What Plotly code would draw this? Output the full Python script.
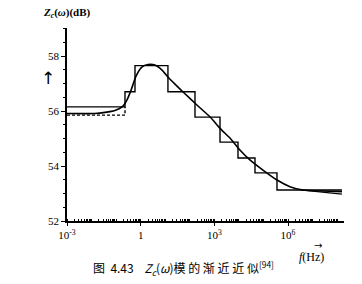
import plotly.graph_objects as go

# Smooth exact curve (frequency in Hz, magnitude in dB)
curve_f = [0.001, 0.0138, 0.0355, 0.0891, 0.174, 0.275, 0.407, 0.646, 1.12, 2.0, 3.8,
           7.4, 12.9, 25, 52, 195, 660, 1700, 4400, 11000, 28000, 95000, 355000,
           1.2e6, 4.1e6, 2.6e7, 1.58e8]
curve_db = [55.91, 55.91, 55.95, 56.02, 56.15, 56.40, 56.76, 57.27, 57.60, 57.69, 57.67,
            57.49, 57.24, 56.98, 56.70, 56.22, 55.79, 55.37, 55.01, 54.58, 54.22, 53.85, 53.49,
            53.25, 53.13, 53.09, 53.07]

# Staircase (asymptotic) approximation: step edges (Hz) and levels (dB)
step_f = [0.001, 0.23, 0.587, 12.9, 163, 1700, 9190, 45200, 355600, 1.57e8]
step_db = [56.15, 56.70, 57.65, 56.70, 55.78, 54.87, 54.29, 53.75, 53.13, 53.13]

# Dashed approximation segments
dash_low_f = [0.001, 0.23, 0.23]
dash_low_db = [55.85, 55.85, 56.15]
dash_high_f = [3.2e6, 1.57e8]
dash_high_db = [53.13, 52.98]

x_tickvals = [1e-3, 1, 1e3, 1e6]
x_ticktext = ["10<sup>-3</sup>", "1", "10<sup>3</sup>", "10<sup>6</sup>"]
y_tickvals = [52, 54, 56, 58]

minor_x = [k * 10.0 ** n for n in range(-3, 9) for k in range(1, 10)]

fig = go.Figure()
fig.add_trace(go.Scatter(x=curve_f, y=curve_db, mode="lines", line=dict(color="black", width=1.6, shape="spline", smoothing=0.5)))
fig.add_trace(go.Scatter(x=step_f, y=step_db, mode="lines", line=dict(color="black", width=1.4, shape="hv")))
fig.add_trace(go.Scatter(x=dash_low_f, y=dash_low_db, mode="lines", line=dict(color="black", width=1.4, dash="3px,2px")))
fig.add_trace(go.Scatter(x=dash_high_f, y=dash_high_db, mode="lines", line=dict(color="black", width=1.2)))

serif = "Liberation Serif"
fig.update_layout(
    width=362, height=284,
    margin=dict(l=67, r=18, t=28, b=63),
    paper_bgcolor="white", plot_bgcolor="white",
    showlegend=False,
    font=dict(family=serif, color="black", size=10),
    xaxis=dict(type="log", range=[-3, 8.28], tickvals=x_tickvals, ticktext=x_ticktext,
               showline=True, linecolor="black", linewidth=2, showgrid=False, zeroline=False,
               ticks="outside", ticklen=3, tickcolor="black", tickfont=dict(family=serif, size=11),
               minor=dict(tickvals=minor_x, ticks="inside", ticklen=2, tickcolor="black", showgrid=False)),
    yaxis=dict(range=[52, 59.02], tickvals=y_tickvals,
               showline=True, linecolor="black", linewidth=1.8, showgrid=False, zeroline=False,
               ticks="outside", ticklen=4, tickcolor="black", tickfont=dict(family=serif, size=11),
               minor=dict(dtick=0.5, ticks="outside", ticklen=2, tickcolor="black", showgrid=False)),
)

fig.add_annotation(xref="paper", yref="paper", x=0.0, y=1.078, xanchor="center", yanchor="middle",
                   text="<b><i>Z<sub>c</sub></i>(<i>ω</i>)(dB)</b>", showarrow=False,
                   font=dict(family=serif, size=11))
fig.add_annotation(xref="paper", yref="paper", x=-0.068, y=0.74, xanchor="center", yanchor="middle",
                   text="↑", showarrow=False, font=dict(family="DejaVu Sans", size=17))
fig.add_annotation(xref="paper", yref="paper", x=0.884, y=-0.185, xanchor="center", yanchor="middle",
                   text="<i>f</i>(Hz)", showarrow=False, font=dict(family=serif, size=12))
fig.add_annotation(xref="paper", yref="paper", x=0.905, y=-0.125, xanchor="center", yanchor="middle",
                   text="→", showarrow=False, font=dict(family="DejaVu Sans", size=10))
fig.add_annotation(xref="paper", yref="paper", x=0.42, y=-0.245, xanchor="center", yanchor="middle",
                   text="图  4.43    <i>Z<sub>c</sub></i>(<i>ω</i>)模 的 渐 近 近 似<sup>[94]</sup>", showarrow=False,
                   font=dict(family="Noto Sans CJK SC", size=12))

fig.write_html("out.html")
